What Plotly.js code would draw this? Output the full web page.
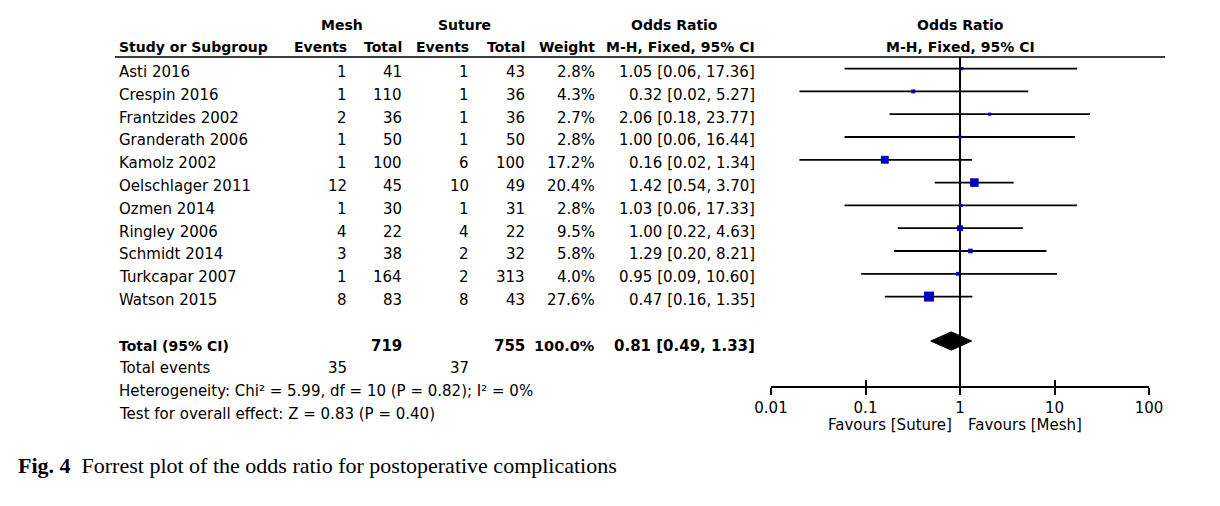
<!DOCTYPE html>
<html>
<head>
<meta charset="utf-8">
<script src="https://cdn.plot.ly/plotly-3.0.1.min.js"></script>
<style>
  html, body { margin: 0; padding: 0; background: #fff; }
  #chart { width: 1220px; height: 506px; }
</style>
</head>
<body>
<div id="chart"></div>
<script>
// Study-level data: events / totals per arm, weights and odds ratios with 95% CI
const studies = ["Asti 2016", "Crespin 2016", "Frantzides 2002", "Granderath 2006", "Kamolz 2002",
  "Oelschlager 2011", "Ozmen 2014", "Ringley 2006", "Schmidt 2014", "Turkcapar 2007", "Watson 2015"];
const meshEvents = [1, 1, 2, 1, 1, 12, 1, 4, 3, 1, 8];
const meshTotal = [41, 110, 36, 50, 100, 45, 30, 22, 38, 164, 83];
const sutureEvents = [1, 1, 1, 1, 6, 10, 1, 4, 2, 2, 8];
const sutureTotal = [43, 36, 36, 50, 100, 49, 31, 22, 32, 313, 43];
const weights = [2.8, 4.3, 2.7, 2.8, 17.2, 20.4, 2.8, 9.5, 5.8, 4.0, 27.6];
const oddsRatio = [1.05, 0.32, 2.06, 1.00, 0.16, 1.42, 1.03, 1.00, 1.29, 0.95, 0.47];
const ciLow = [0.06, 0.02, 0.18, 0.06, 0.02, 0.54, 0.06, 0.22, 0.20, 0.09, 0.16];
const ciHigh = [17.36, 5.27, 23.77, 16.44, 1.34, 3.70, 17.33, 4.63, 8.21, 10.60, 1.35];

// Pooled result
const totalMesh = 719;
const totalSuture = 755;
const totalWeight = 100.0;
const totalMeshEvents = 35;
const totalSutureEvents = 37;
const pooledOR = 0.81;
const pooledLow = 0.49;
const pooledHigh = 1.33;
const heterogeneityText = "Heterogeneity: Chi² = 5.99, df = 10 (P = 0.82); I² = 0%";
const overallEffectText = "Test for overall effect: Z = 0.83 (P = 0.40)";

// Axis ticks
const tickValues = [0.01, 0.1, 1, 10, 100];
const tickLabels = ["0.01", "0.1", "1", "10", "100"];

// ---- page geometry (pixels) ----
const W = 1220, H = 506;
const FIRST_ROW_PX = 72, ROW_PX = 22.8;
const rowOf = p => (p - FIRST_ROW_PX) / ROW_PX;
const px = x => x / W;               // paper x from pixel
const FONT = "DejaVu Sans";
const FS = 15;                       // regular table text
const FS_BOLD = 14;                  // bold headers and totals

const totalRow = studies.length + 1;
const headerRow = rowOf(47);
const groupRow = rowOf(25);
const ruleRow = rowOf(57);
const axisRow = rowOf(387);
const markShift = -0.15;             // marks sit slightly above the text row centre

// column right edges
const colMeshEv = 349, colMeshTot = 404, colSutEv = 471, colSutTot = 527, colWeight = 597, colOR = 757;
const colStudy = 117;

const annotations = [];
function txt(text, xPx, row, anchor, bold, size) {
  annotations.push({
    xref: "paper", yref: "y", x: px(xPx), y: row,
    text: bold ? "<b>" + text + "</b>" : text, showarrow: false,
    xanchor: anchor, yanchor: "middle",
    font: { family: FONT, size: size || (bold ? FS_BOLD : FS), color: "#000" }
  });
}

// headers
txt("Mesh", 342, groupRow, "center", true);
txt("Suture", 464, groupRow, "center", true);
txt("Odds Ratio", 674, groupRow, "center", true);
txt("Odds Ratio", 960, groupRow, "center", true);
txt("Study or Subgroup", colStudy, headerRow, "left", true);
txt("Events", colMeshEv, headerRow, "right", true);
txt("Total", colMeshTot, headerRow, "right", true);
txt("Events", colSutEv, headerRow, "right", true);
txt("Total", colSutTot, headerRow, "right", true);
txt("Weight", colWeight, headerRow, "right", true);
txt("M-H, Fixed, 95% CI", colOR, headerRow, "right", true);
txt("M-H, Fixed, 95% CI", 960, headerRow, "center", true);

const fmtCI = (o, l, h) => o.toFixed(2) + " [" + l.toFixed(2) + ", " + h.toFixed(2) + "]";

// study rows
studies.forEach((s, i) => {
  txt(s, colStudy, i, "left");
  txt(String(meshEvents[i]), colMeshEv, i, "right");
  txt(String(meshTotal[i]), colMeshTot, i, "right");
  txt(String(sutureEvents[i]), colSutEv, i, "right");
  txt(String(sutureTotal[i]), colSutTot, i, "right");
  txt(weights[i].toFixed(1) + "%", colWeight, i, "right");
  txt(fmtCI(oddsRatio[i], ciLow[i], ciHigh[i]), colOR, i, "right");
});

// totals
txt("Total (95% CI)", colStudy, totalRow, "left", true);
txt(String(totalMesh), colMeshTot, totalRow, "right", true, 15);
txt(String(totalSuture), colSutTot, totalRow, "right", true, 15);
txt(totalWeight.toFixed(1) + "%", colWeight, totalRow, "right", true, 14.5);
txt(fmtCI(pooledOR, pooledLow, pooledHigh), colOR, totalRow, "right", true, 15);
txt("Total events", colStudy, totalRow + 1, "left");
txt(String(totalMeshEvents), colMeshEv, totalRow + 1, "right");
txt(String(totalSutureEvents), colSutEv, totalRow + 1, "right");
txt(heterogeneityText, colStudy, totalRow + 2, "left");
txt(overallEffectText, colStudy, totalRow + 3, "left");

// favours labels under the axis
annotations.push({
  xref: "x", yref: "y", x: 0, y: rowOf(425), text: "Favours [Suture]", showarrow: false,
  xanchor: "right", yanchor: "middle", xshift: -6, font: { family: FONT, size: FS, color: "#000" }
});
annotations.push({
  xref: "x", yref: "y", x: 0, y: rowOf(425), text: "Favours [Mesh]", showarrow: false,
  xanchor: "left", yanchor: "middle", xshift: 6, font: { family: FONT, size: FS, color: "#000" }
});

// figure caption
annotations.push({
  xref: "paper", yref: "y", x: px(16), y: rowOf(465),
  text: "<b>Fig. 4</b>  Forrest plot of the odds ratio for postoperative complications",
  showarrow: false, xanchor: "left", yanchor: "middle",
  font: { family: "Liberation Serif", size: 22, color: "#000" }
});

// ---- traces ----
const traces = [];

// confidence interval whiskers
const ciX = [], ciY = [];
studies.forEach((s, i) => {
  ciX.push(ciLow[i], ciHigh[i], null);
  ciY.push(i + markShift, i + markShift, null);
});
traces.push({
  x: ciX, y: ciY, mode: "lines", type: "scatter", xaxis: "x", yaxis: "y",
  line: { color: "#000", width: 1.8 }, hoverinfo: "skip", showlegend: false
});

// line of no effect
traces.push({
  x: [1, 1], y: [ruleRow, axisRow], mode: "lines", type: "scatter",
  line: { color: "#000", width: 2 }, hoverinfo: "skip", showlegend: false
});

// study point estimates, square area proportional to weight
traces.push({
  x: oddsRatio, y: studies.map((s, i) => i + markShift), mode: "markers", type: "scatter",
  marker: {
    symbol: "square", color: "#0000c0", opacity: 1,
    size: weights.map(w => 1.9 * Math.sqrt(w)), line: { width: 0 }
  },
  text: studies, hoverinfo: "text+x", showlegend: false
});

// pooled diamond
const dRow = totalRow - 0.2, dHalf = 0.4;
traces.push({
  x: [pooledLow, pooledOR, pooledHigh, pooledOR, pooledLow],
  y: [dRow, dRow - dHalf, dRow, dRow + dHalf, dRow],
  mode: "lines", type: "scatter", fill: "toself", fillcolor: "#000",
  line: { color: "#000", width: 1 }, hoverinfo: "skip", showlegend: false
});

// carrier for the upper tick marks of the axis
traces.push({
  x: [1], y: [axisRow], mode: "markers", type: "scatter", xaxis: "x2", yaxis: "y",
  marker: { opacity: 0 }, hoverinfo: "skip", showlegend: false
});

const axisPos = (H - 387) / H;
const xCommon = {
  type: "log", range: [-2, 2], domain: [px(771), px(1149)],
  anchor: "free", position: axisPos, showgrid: false, zeroline: false,
  tickmode: "array", tickvals: tickValues, ticktext: tickLabels,
  tickcolor: "#000", tickwidth: 2, ticklen: 7, fixedrange: true
};

const layout = {
  width: W, height: H,
  font: { family: FONT, size: FS, color: "#000" },
  margin: { l: 0, r: 0, t: 0, b: 0 },
  paper_bgcolor: "#fff", plot_bgcolor: "rgba(0,0,0,0)",
  showlegend: false,
  xaxis: Object.assign({}, xCommon, {
    showline: true, linecolor: "#000", linewidth: 2, ticks: "outside",
    tickfont: { family: FONT, size: FS, color: "#000" }
  }),
  xaxis2: Object.assign({}, xCommon, {
    overlaying: "x", showline: false, ticks: "inside", showticklabels: false
  }),
  yaxis: {
    domain: [0, 1], range: [rowOf(H), rowOf(0)], visible: false,
    showgrid: false, zeroline: false, fixedrange: true
  },
  shapes: [{
    type: "line", xref: "paper", yref: "y", x0: px(115), x1: px(1165),
    y0: ruleRow, y1: ruleRow, line: { color: "#000", width: 1.5 }
  }],
  annotations: annotations
};

Plotly.newPlot("chart", traces, layout, { displayModeBar: false, staticPlot: true });
</script>
</body>
</html>
